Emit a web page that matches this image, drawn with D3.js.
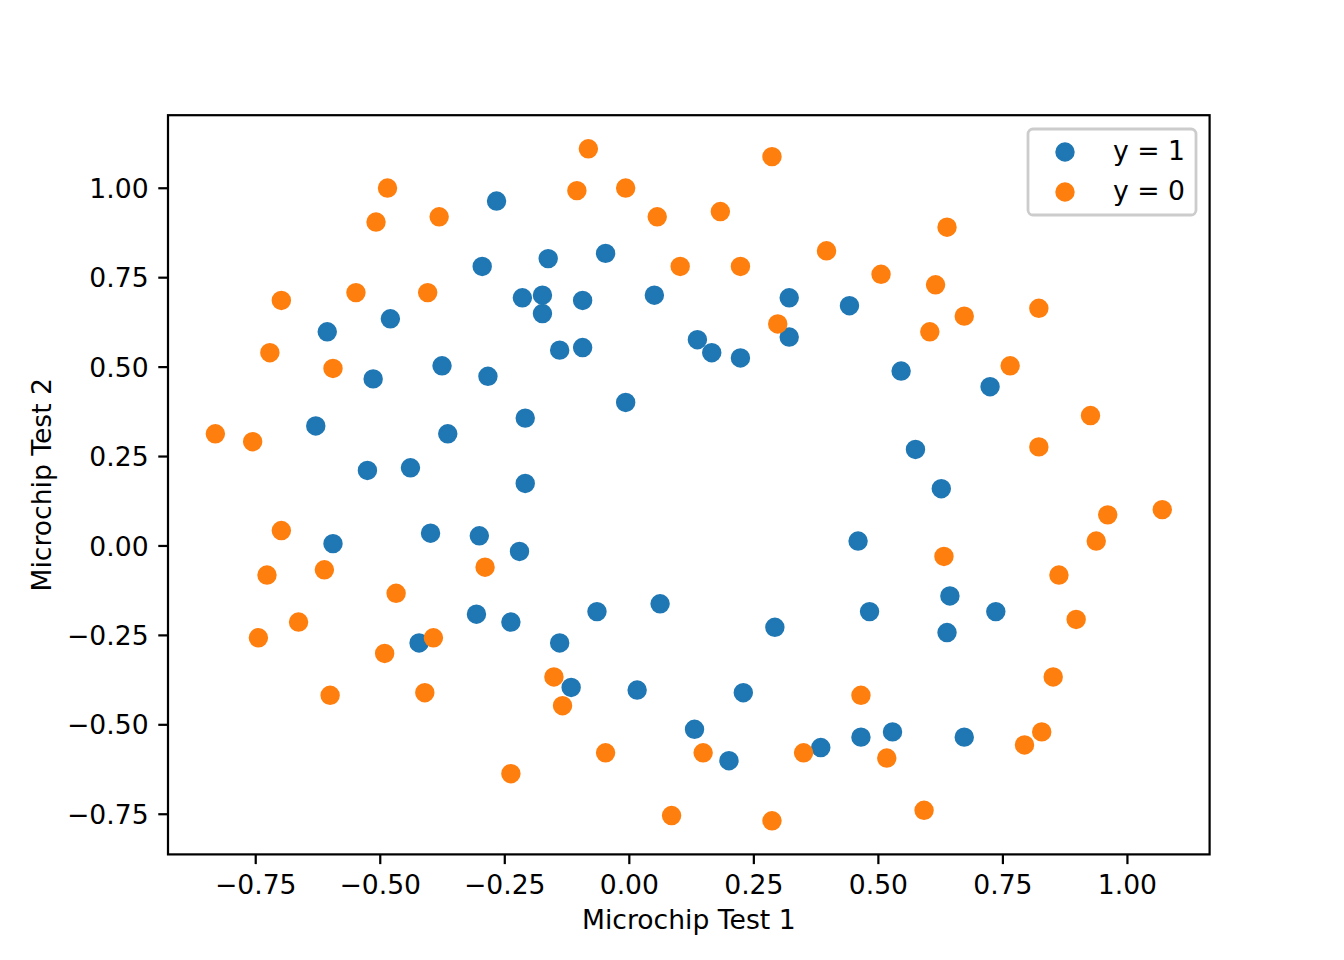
<!DOCTYPE html>
<html>
<head>
<meta charset="utf-8">
<script src="https://cdn.jsdelivr.net/npm/d3@7"></script>
<style>
  html, body { margin: 0; padding: 0; background: #fff; }
  svg { display: block; }
  text { font-family: "DejaVu Sans", sans-serif; fill: #000; }
</style>
</head>
<body>
<svg id="chart" width="1344" height="960"></svg>
<script>
// Accepted (y = 1)
const acceptedTest1 = [0.051267,-0.092742,-0.21371,-0.375,-0.51325,-0.52477,-0.39804,-0.30588,0.016705,0.13191,0.38537,0.52938,0.63882,0.73675,0.54666,0.322,0.16647,-0.046659,-0.17339,-0.47869,-0.60541,-0.62846,-0.59389,-0.42108,-0.11578,0.20104,0.46601,0.67339,-0.13882,-0.29435,-0.26555,-0.16187,-0.17339,-0.28283,-0.36348,-0.30012,-0.23675,-0.06394,0.062788,0.22984,0.2932,0.48329,0.64459,0.46025,0.6273,0.57546,0.72523,0.22408,0.44297,0.322,0.13767,-0.0063364,-0.092742,-0.20795,-0.20795,-0.43836,-0.21947,-0.13882];
const acceptedTest2 = [0.69956,0.68494,0.69225,0.50219,0.46564,0.2098,0.034357,-0.19225,-0.40424,-0.51389,-0.56506,-0.5212,-0.24342,-0.18494,0.48757,0.5826,0.53874,0.81652,0.69956,0.63377,0.59722,0.33406,0.005117,-0.27266,-0.39693,-0.60161,-0.53582,-0.53582,0.54605,0.77997,0.96272,0.8019,0.64839,0.47295,0.31213,0.027047,-0.21418,-0.18494,-0.16301,-0.41155,-0.2288,-0.18494,-0.14108,0.012427,0.15863,0.26827,0.44371,0.52412,0.67032,0.69225,0.57529,0.39985,0.55336,0.35599,0.17325,0.21711,-0.016813,-0.27266];
// Rejected (y = 0)
const rejectedTest1 = [0.18376,0.22408,0.29896,0.50634,0.61578,0.60426,0.76555,0.92684,0.82316,0.96141,0.93836,0.86348,0.89804,0.85196,0.82892,0.79435,0.59274,0.51786,0.46601,0.35081,0.28744,0.085829,0.14919,-0.13306,-0.40956,-0.39228,-0.74366,-0.69758,-0.75518,-0.69758,-0.4038,-0.38076,-0.50749,-0.54781,0.10311,0.057028,-0.10426,-0.081221,0.28744,0.39689,0.63882,0.82316,0.67339,1.0709,-0.046659,-0.23675,-0.15035,-0.49021,-0.46717,-0.28859,-0.61118,-0.66302,-0.59965,-0.72638,-0.83007,-0.72062,-0.59389,-0.48445,-0.0063364,0.63265];
const rejectedTest2 = [0.93348,0.77997,0.61915,0.75804,0.7288,0.59722,0.50219,0.3633,0.27558,0.085526,0.012427,-0.082602,-0.20687,-0.36769,-0.5212,-0.55775,-0.7405,-0.5943,-0.41886,-0.57968,-0.76974,-0.75512,-0.57968,-0.4481,-0.41155,-0.25804,-0.25804,0.041667,0.2902,0.68494,0.70687,0.91886,0.90424,0.70687,0.77997,0.91886,0.99196,1.1089,1.087,0.82383,0.88962,0.66301,0.64108,0.10015,-0.57968,-0.63816,-0.36769,-0.3019,-0.13377,-0.060673,-0.067982,-0.21418,-0.41886,-0.082602,0.31213,0.53874,0.49488,0.99927,0.99927,-0.030612];

const xTicks = [-0.75,-0.5,-0.25,0,0.25,0.5,0.75,1.0];
const yTicks = [-0.75,-0.5,-0.25,0,0.25,0.5,0.75,1.0];
const seriesNames = ["y = 1", "y = 0"];
const seriesColors = ["#1f77b4", "#ff7f0e"];

(function draw() {
  const mLeft = 168, mRight = 1209.6, mTop = 115.2, mBottom = 854.4;
  const dpi = 200, pt = dpi / 72;
  const fontPx = 26.6;

  const svg = d3.select("#chart");

  const allX = acceptedTest1.concat(rejectedTest1);
  const allY = acceptedTest2.concat(rejectedTest2);
  const [x0, x1] = d3.extent(allX), [y0, y1] = d3.extent(allY);
  const mx = (x1 - x0) * 0.05, my = (y1 - y0) * 0.05;

  const x = d3.scaleLinear().domain([x0 - mx, x1 + mx]).range([mLeft, mRight]);
  const y = d3.scaleLinear().domain([y0 - my, y1 + my]).range([mBottom, mTop]);

  const fmt = d3.format(".2f");
  const tickLen = 3.5 * pt, tickPad = 3.5 * pt;

  const series = [
    { xs: acceptedTest1, ys: acceptedTest2, color: seriesColors[0] },
    { xs: rejectedTest1, ys: rejectedTest2, color: seriesColors[1] }
  ];
  const r = 3 * pt;
  series.forEach(s => {
    svg.append("g").selectAll("circle")
      .data(s.xs.map((v, i) => [v, s.ys[i]]))
      .join("circle")
      .attr("cx", d => x(d[0]))
      .attr("cy", d => y(d[1]))
      .attr("r", r)
      .attr("fill", s.color)
      .attr("stroke", s.color)
      .attr("stroke-width", 1 * pt);
  });

  const xAxis = d3.axisBottom(x).tickValues(xTicks).tickFormat(fmt).tickSize(tickLen).tickPadding(tickPad);
  const yAxis = d3.axisLeft(y).tickValues(yTicks).tickFormat(fmt).tickSize(tickLen).tickPadding(tickPad);

  const gx = svg.append("g").attr("transform", `translate(0,${mBottom})`).call(xAxis);
  const gy = svg.append("g").attr("transform", `translate(${mLeft},0)`).call(yAxis);
  [gx, gy].forEach(g => {
    g.select(".domain").remove();
    g.selectAll(".tick line").attr("stroke", "#000").attr("stroke-width", 0.8 * pt);
    g.selectAll(".tick text").attr("font-size", fontPx).attr("font-family", "DejaVu Sans").attr("fill", "#000");
  });
  gx.selectAll(".tick text").attr("dy", "0.76em");
  gy.selectAll(".tick text").attr("dy", "0.36em");

  svg.append("rect")
    .attr("x", mLeft).attr("y", mTop)
    .attr("width", mRight - mLeft).attr("height", mBottom - mTop)
    .attr("fill", "none").attr("stroke", "#000").attr("stroke-width", 0.8 * pt);

  svg.append("text")
    .attr("x", (mLeft + mRight) / 2).attr("y", 929)
    .attr("text-anchor", "middle").attr("font-size", fontPx)
    .text("Microchip Test 1");
  svg.append("text")
    .attr("transform", `translate(51,${(mTop + mBottom) / 2}) rotate(-90)`)
    .attr("text-anchor", "middle").attr("font-size", fontPx)
    .text("Microchip Test 2");

  const lg = svg.append("g");
  lg.append("rect")
    .attr("x", 1028).attr("y", 129).attr("width", 168).attr("height", 86)
    .attr("rx", 5).attr("ry", 5)
    .attr("fill", "#fff").attr("fill-opacity", 0.8)
    .attr("stroke", "#cccccc").attr("stroke-width", 1 * pt);
  seriesNames.forEach((name, i) => {
    const cy = 152 + i * 40;
    lg.append("circle").attr("cx", 1065).attr("cy", cy).attr("r", r)
      .attr("fill", seriesColors[i]).attr("stroke", seriesColors[i]).attr("stroke-width", 1 * pt);
    lg.append("text").attr("x", 1113).attr("y", cy - 2).attr("dy", "0.36em")
      .attr("font-size", fontPx).text(name);
  });
})();
</script>
</body>
</html>
